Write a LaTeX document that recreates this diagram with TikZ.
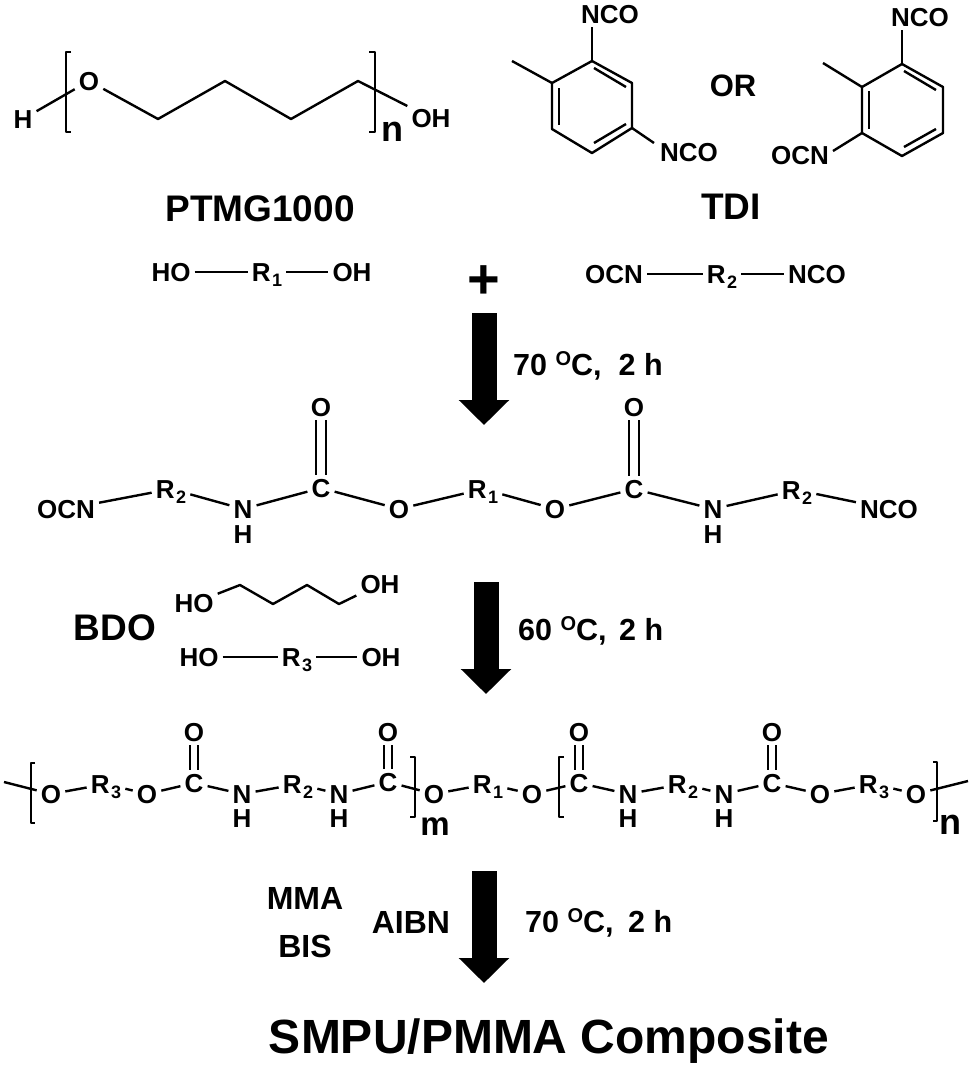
\documentclass[tikz,border=0pt]{standalone}
\usepackage{fontspec}
\setmainfont{Liberation Sans}
\usetikzlibrary{arrows.meta}
\newcommand{\Rsub}[1]{R\hspace{1.5pt}\raisebox{-5pt}{\fontsize{18}{18}\selectfont #1}}
\newcommand{\degO}{\raisebox{10pt}{\fontsize{20}{20}\selectfont O}}
\tikzset{
	atom/.style={font=\fontsize{26}{26}\selectfont\bfseries, inner sep=4pt, text height=18.5pt, text depth=0pt},
	name label/.style={font=\fontsize{37}{37}\selectfont\bfseries, inner sep=0pt},
	cond label/.style={font=\fontsize{30.5}{30.5}\selectfont\bfseries, inner sep=0pt, anchor=base west},
	index label/.style={font=\fontsize{36}{36}\selectfont\bfseries, inner sep=0pt, anchor=base},
	bond/.style={line width=2.4pt, line join=round},
	dbond/.style={line width=2.2pt, double, double distance=5.6pt},
	bigarrow/.style={line width=25pt, -{Triangle[length=25pt,width=49pt]}}
}
\begin{document}
\begin{tikzpicture}[x=1pt,y=-1pt]
	\path[use as bounding box,fill=white] (0,0) rectangle (972,1066);
	% PTMG1000
	\foreach \n/\x/\y/\t in {pH/23/119/H, pO/89/81/O, pOH/431/118/OH}
		\node[atom] (\n) at (\x,\y) {\t};
	\coordinate (p1) at (158,119);
	\coordinate (p2) at (225,81);
	\coordinate (p3) at (291,119);
	\coordinate (p4) at (358,81);
	\draw[bond] (pH) -- (pO);
	\draw[bond] (pO) -- (p1) -- (p2) -- (p3) -- (p4) -- (pOH);
	\node[index label] (pn) at (392,141) {n};
	\node[name label] (ptmg) at (260,209) {PTMG1000};
	% TDI, two isomers
	\coordinate (a1) at (592,61);
	\coordinate (a2) at (632,83);
	\coordinate (a3) at (632,128);
	\coordinate (a4) at (592,153);
	\coordinate (a5) at (552,129);
	\coordinate (a6) at (552,83);
	\coordinate (ame) at (512,61);
	\coordinate (b1) at (902,64);
	\coordinate (b2) at (943,87);
	\coordinate (b3) at (943,133);
	\coordinate (b4) at (902,156);
	\coordinate (b5) at (862,133);
	\coordinate (b6) at (862,87);
	\coordinate (bme) at (823,63);
	\draw[bond] (a1) -- (a2) -- (a3) -- (a4) -- (a5) -- (a6) -- cycle;
	\draw[bond] (b1) -- (b2) -- (b3) -- (b4) -- (b5) -- (b6) -- cycle;
	\draw[bond] (594,68) -- (626,87);
	\draw[bond] (626,124) -- (594,143);
	\draw[bond] (559,88) -- (559,125);
	\draw[bond] (904,71) -- (936,90);
	\draw[bond] (936,129) -- (904,147);
	\draw[bond] (869,91) -- (869,129);
	\draw[bond] (a6) -- (ame);
	\draw[bond] (b6) -- (bme);
	\node[atom] (aN1) at (610,14) {NCO};
	\node[atom] (aN2) at (689,152) {NCO};
	\node[atom] (bN1) at (920,17) {NCO};
	\node[atom] (bN2) at (800,155) {OCN};
	\draw[bond] (a1) -- (a1 |- aN1.south);
	\draw[bond] (a3) -- (654,143);
	\draw[bond] (b1) -- (b1 |- bN1.south);
	\draw[bond] (b5) -- (833,151);
	\node[atom, font=\fontsize{31}{31}\selectfont\bfseries] (or) at (733,87) {OR};
	\node[name label] (tdi) at (731,207) {TDI};
	% first row
	\foreach \n/\x/\y/\t in {hoA/171/272/HO, rA/267/272/\Rsub{1}, ohA/352/272/OH,
		ocB/614/274/OCN, rB/722/274/\Rsub{2}, ncB/817/274/NCO}
		\node[atom] (\n) at (\x,\y) {\t};
	\foreach \a/\b in {hoA/rA, rA/ohA, ocB/rB, rB/ncB}
		\draw[bond] (\a) -- (\b);
	\node[font=\fontsize{56}{56}\selectfont\bfseries, inner sep=0pt] (plus) at (484,282) {+};
	\coordinate (s1) at (484,313);
	\coordinate (e1) at (484,425);
	\draw[bigarrow] (s1) -- (e1);
	\node[cond label] (c1) at (513,375) {70 \degO C,\ \ 2 h};
	% prepolymer
	\foreach \n/\x/\y/\t in {q1/66/509/OCN, q2/171/489/\Rsub{2}, q3/243/509/N, q3h/243/534/H, q4/321/488/C, q4o/321/407/O,
		q5/399/509/O, q6/483/489/\Rsub{1}, q7/555/509/O, q8/634/489/C, q8o/634/407/O,
		q9/713/509/N, q9h/713/534/H, q10/797/490/\Rsub{2}, q11/889/509/NCO}
		\node[atom] (\n) at (\x,\y) {\t};
	\foreach \a/\b in {q1/q2, q2/q3, q3/q4, q4/q5, q5/q6, q6/q7, q7/q8, q8/q9, q9/q10, q10/q11}
		\draw[bond] (\a) -- (\b);
	\foreach \a/\b in {q4o/q4, q8o/q8}
		\draw[dbond, double distance=7.6pt] (\a) -- (\b);
	% BDO
	\node[name label] (bdo) at (115,628) {BDO};
	\foreach \n/\x/\y/\t in {bHO/194/603/HO, bOH/380/584/OH, hoC/199/657/HO, rC/297/657/\Rsub{3}, ohC/381/657/OH}
		\node[atom] (\n) at (\x,\y) {\t};
	\coordinate (d1) at (240,585);
	\coordinate (d2) at (273,604);
	\coordinate (d3) at (307,585);
	\coordinate (d4) at (339,604);
	\draw[bond] (bHO) -- (d1) -- (d2) -- (d3) -- (d4) -- (bOH);
	\foreach \a/\b in {hoC/rC, rC/ohC}
		\draw[bond] (\a) -- (\b);
	\coordinate (s2) at (486,582);
	\coordinate (e2) at (486,694);
	\draw[bigarrow] (s2) -- (e2);
	\node[cond label] (c2) at (518,640) {60 \degO C, \hspace{4pt}2 h};
	% polymer
	\foreach \n/\x/\y/\t in {u1/51/794/O, u2/106/784/\Rsub{3}, u3/147/794/O, u4/194/783/C, u4o/194/732/O,
		u5/242/794/N, u5h/242/818/H, u6/298/784/\Rsub{2}, u7/339/794/N, u7h/339/818/H, u8/388/782/C, u8o/388/732/O,
		u9/434/794/O, u10/488/784/\Rsub{1}, u11/532/794/O, u12/579/783/C, u12o/579/732/O,
		u13/628/794/N, u13h/628/818/H, u14/683/784/\Rsub{2}, u15/724/794/N, u15h/724/818/H,
		u16/772/783/C, u16o/772/732/O, u17/820/794/O, u18/874/784/\Rsub{3}, u19/916/794/O}
		\node[atom] (\n) at (\x,\y) {\t};
	\coordinate (ul) at (4,782);
	\coordinate (ur) at (968,781);
	\draw[bond] (ul) -- (u1);
	\draw[bond] (u19) -- (ur);
	\foreach \a/\b in {u1/u2, u2/u3, u3/u4, u4/u5, u5/u6, u6/u7, u7/u8, u8/u9, u9/u10,
		u10/u11, u11/u12, u12/u13, u13/u14, u14/u15, u15/u16, u16/u17, u17/u18, u18/u19}
		\draw[bond] (\a) -- (\b);
	\foreach \a/\b in {u4o/u4, u8o/u8, u12o/u12, u16o/u16}
		\draw[dbond] (\a) -- (\b);
	\node[index label, font=\fontsize{33}{33}\selectfont\bfseries] (um) at (435,835) {m};
	\node[index label] (un) at (950,834) {n};
	% brackets
	\foreach \x/\t/\ya/\yb in {66/71/52/132, 375/369/52/132, 31/35/763/823, 415/410/757/817, 559/564/757/817, 937/933/762/821}
		\draw[bond] (\t,\ya) -- (\x,\ya) -- (\x,\yb) -- (\t,\yb);
	% last step
	\coordinate (s3) at (484,871);
	\coordinate (e3) at (484,983);
	\draw[bigarrow] (s3) -- (e3);
	\foreach \n/\x/\y/\t in {mma/305/898/MMA, bis/305/946/BIS, aibn/411/922/AIBN}
		\node[atom, font=\fontsize{32}{32}\selectfont\bfseries, text height=22pt] (\n) at (\x,\y) {\t};
	\node[cond label] (c3) at (525,932) {70 \degO C, \hspace{6pt}2 h};
	\node[name label, font=\fontsize{48}{48}\selectfont\bfseries] (smpu) at (549,1053) [anchor=base] {SMPU/PMMA Composite};
\end{tikzpicture}
\end{document}
